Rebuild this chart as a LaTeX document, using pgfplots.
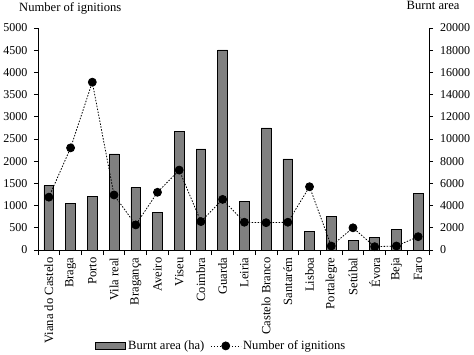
\documentclass[border=0pt]{standalone}
\usepackage{fontspec}
\setmainfont{Liberation Serif}
\usepackage{pgfplots}
\pgfplotsset{compat=1.18}
\definecolor{barfill}{RGB}{128,128,128}
\pgfplotsset{
  mybarlegend/.style={legend image code/.code={\draw[##1] (0bp,-3.5bp) rectangle (30bp,3.5bp);}},
  mylinelegend/.style={legend image code/.code={\draw[mark repeat=2,mark phase=2,##1] plot coordinates {(0bp,0bp) (15bp,0bp) (30bp,0bp)};}},
}
\newcommand{\txtfont}{\fontsize{12.6bp}{15bp}\selectfont}
\newcommand{\numfont}{\fontsize{12bp}{14bp}\selectfont}
\begin{document}
\begin{tikzpicture}[font=\txtfont]
\path[use as bounding box] (-38bp,-105bp) rectangle (436bp,250bp);
\begin{axis}[
  scale only axis, width=391bp, height=222bp,
  at={(0,0)}, anchor=south west,
  xmin=-0.5, xmax=17.5,
  ymin=0, ymax=20000,
  axis y line*=right, axis x line=none,
  ytick={0,2000,...,20000},
  scaled y ticks=false,
  tick align=outside, major tick length=4bp,
  /pgf/number format/assume math mode=true,
  /pgf/number format/1000 sep={},
  yticklabel style={font=\numfont, xshift=3.5bp},
  ybar, bar width=0.45,
  axis line style={line width=0.8bp},
  tick style={line width=0.8bp, black},
]
\addplot[fill=barfill, draw=black, line width=0.7bp] coordinates {
(0,5790) (1,4200) (2,4860) (3,8650) (4,5610) (5,3400) (6,10720) (7,9100) (8,18020)
(9,4400) (10,11000) (11,8200) (12,1700) (13,3000) (14,900) (15,1110) (16,1890) (17,5100)};
\end{axis}
\begin{axis}[
  scale only axis, width=391bp, height=222bp,
  at={(0,0)}, anchor=south west,
  xmin=-0.5, xmax=17.5,
  ymin=0, ymax=5000,
  axis y line*=left, axis x line*=bottom,
  ytick={0,500,...,5000},
  xtick={0,...,17},
  xticklabels={Viana do Castelo, Braga, Porto, Vila real, Bragança, Aveiro, Viseu, Coimbra, Guarda, Leiria, Castelo Branco, Santarém, Lisboa, Portalegre, Setúbal, Évora, Beja, Faro},
  minor xtick={-0.5,0.5,...,17.5},
  major x tick style={draw=none},
  minor tick length=5bp,
  tick align=outside, major tick length=4bp,
  /pgf/number format/assume math mode=true,
  /pgf/number format/1000 sep={},
  yticklabel style={font=\numfont, xshift=-3bp},
  xticklabel style={rotate=90, anchor=east, font=\txtfont},
  axis line style={line width=0.8bp},
  tick style={line width=0.8bp, black},
  legend style={at={(0.469,-0.432)}, anchor=center, draw=none, fill=none,
    legend columns=2, font=\txtfont,
    /tikz/every even column/.append style={column sep=4bp}},
]
\addlegendimage{fill=barfill, draw=black, line width=0.7bp, mybarlegend}
\addlegendentry{Burnt area (ha)}
\addplot[black, dash pattern=on 1.5bp off 1.5bp, line width=0.8bp,
  mark=*, mark size=4bp, mark options={solid}, mylinelegend]
coordinates {
(0,1190) (1,2300) (2,3780) (3,1240) (4,565) (5,1300) (6,1800) (7,640) (8,1140)
(9,625) (10,615) (11,625) (12,1425) (13,90) (14,500) (15,75) (16,90) (17,300)};
\addlegendentry{Number of ignitions}
\end{axis}
\node[anchor=base west, inner sep=0pt] at (-19bp,238.5bp) {Number of ignitions};
\node[anchor=base west, inner sep=0pt] at (368.5bp,240bp) {Burnt area};
\end{tikzpicture}
\end{document}
